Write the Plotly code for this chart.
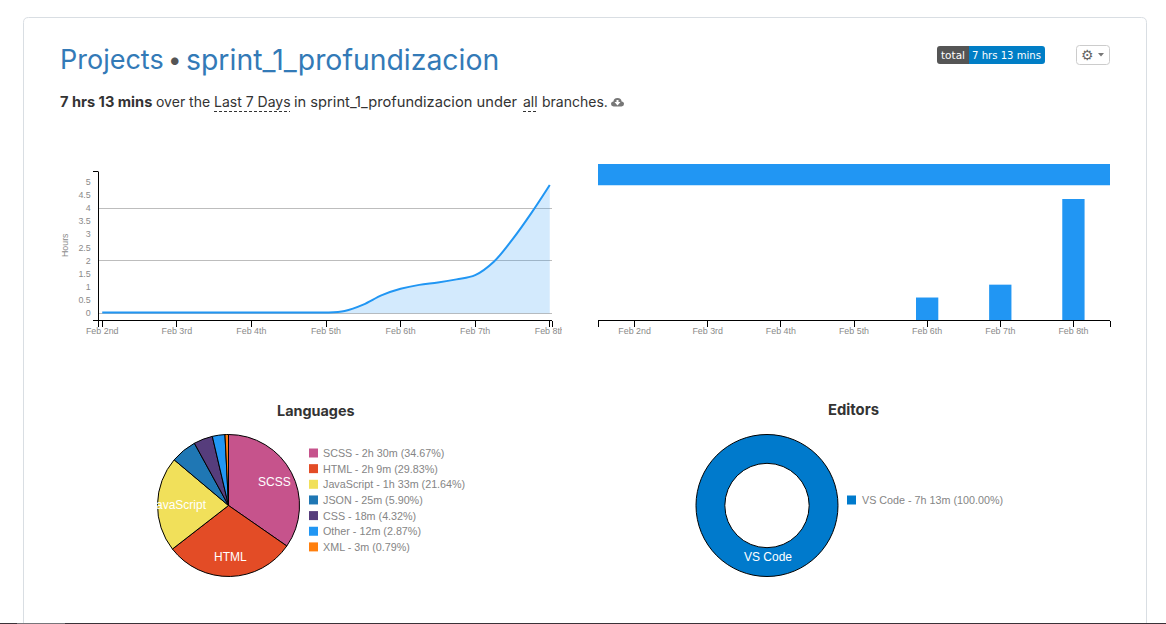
import plotly.graph_objects as go

W, H = 1166, 624
def px(v): return v / W
def py(v): return 1 - v / H

# ---------- data ----------
day_labels = ["Feb 2nd", "Feb 3rd", "Feb 4th", "Feb 5th", "Feb 6th", "Feb 7th", "Feb 8th"]
line_days = [0, 1, 2, 2.75, 3, 3.25, 3.5, 3.75, 4, 4.25, 4.5, 4.75, 5, 5.25, 5.5, 5.75, 6]
line_hours = [0.03, 0.03, 0.03, 0.03, 0.03, 0.09, 0.33, 0.69, 0.93, 1.08, 1.17, 1.29, 1.45, 1.96, 2.81, 3.80, 4.88]
bar_hours = [0, 0, 0, 0, 0.91, 1.43, 4.9]
band_value = [1]
hour_ticks = [0, 0.5, 1, 1.5, 2, 2.5, 3, 3.5, 4, 4.5, 5]
hour_labels = ["0", "0.5", "1", "1.5", "2", "2.5", "3", "3.5", "4", "4.5", "5"]
grid_ticks = [0, 2, 4]
lang_names = ["SCSS", "HTML", "JavaScript", "JSON", "CSS", "Other", "XML"]
lang_values = [34.67, 29.83, 21.64, 5.90, 4.32, 2.87, 0.79]
lang_colors = ["#C6538C", "#E34C26", "#F1E05A", "#1F77B4", "#563D7C", "#2196F3", "#FF7F0E"]
lang_legend = ["SCSS - 2h 30m (34.67%)", "HTML - 2h 9m (29.83%)", "JavaScript - 1h 33m (21.64%)",
               "JSON - 25m (5.90%)", "CSS - 18m (4.32%)", "Other - 12m (2.87%)", "XML - 3m (0.79%)"]
editor_names = ["VS Code"]
editor_values = [100.0]
editor_colors = ["#007ACC"]
editor_legend = ["VS Code - 7h 13m (100.00%)"]

BLUE = "#2196F3"
ARIAL = "Liberation Sans"
HEAD = "Inter"
TICK = dict(family=ARIAL, size=8.9, color="#8a8a8a")

fig = go.Figure()

fig.add_trace(go.Scatter(x=line_days, y=line_hours, mode="lines", fill="tozeroy",
                         fillcolor="rgba(33,150,243,0.2)",
                         line=dict(color=BLUE, width=2, shape="spline", smoothing=1),
                         xaxis="x", yaxis="y", showlegend=False, hoverinfo="skip"))
fig.add_trace(go.Bar(x=list(range(7)), y=bar_hours, width=0.305, marker=dict(color=BLUE, line_width=0),
                     xaxis="x2", yaxis="y2", showlegend=False, hoverinfo="skip"))
fig.add_trace(go.Bar(x=band_value, y=[0], orientation="h", width=1, marker=dict(color=BLUE, line_width=0),
                     xaxis="x3", yaxis="y3", showlegend=False, hoverinfo="skip"))
fig.add_trace(go.Pie(labels=lang_names, values=lang_values, sort=False, direction="clockwise", rotation=0,
                     marker=dict(colors=lang_colors, line=dict(color="#000", width=1)),
                     textinfo="none", showlegend=False, hoverinfo="skip",
                     domain=dict(x=[px(157.5), px(299.5)], y=[py(576.5), py(434.5)])))
fig.add_trace(go.Pie(labels=editor_names, values=editor_values, sort=False, hole=0.594,
                     marker=dict(colors=editor_colors, line=dict(color="#000", width=1)),
                     textinfo="none", showlegend=False, hoverinfo="skip",
                     domain=dict(x=[px(696), px(838)], y=[py(576.5), py(434.5)])))

# ---------- page furniture ----------
def c(x, y): return f"{px(x):.6f},{py(y):.6f}"
def card(x0, y0, x1, y1, r):
    return (f"M{c(x0, y1)} L{c(x0, y0 + r)} Q{c(x0, y0)} {c(x0 + r, y0)} L{c(x1 - r, y0)} "
            f"Q{c(x1, y0)} {c(x1, y0 + r)} L{c(x1, y1)}")
def rbox(x0, y0, x1, y1, rl, rr):
    return (f"M{c(x0 + rl, y0)} L{c(x1 - rr, y0)} Q{c(x1, y0)} {c(x1, y0 + rr)} L{c(x1, y1 - rr)} "
            f"Q{c(x1, y1)} {c(x1 - rr, y1)} L{c(x0 + rl, y1)} Q{c(x0, y1)} {c(x0, y1 - rl)} "
            f"L{c(x0, y0 + rl)} Q{c(x0, y0)} {c(x0 + rl, y0)} Z")
def poly(*pts):
    return "M" + " L".join(c(x, y) for x, y in pts) + " Z"
P = dict(xref="paper", yref="paper")
ICON = "#777"
shapes = [
    dict(type="path", layer="below", path=card(23.5, 17.5, 1146.5, 630, 5), line=dict(color="#d9dee3", width=1), **P),
    dict(type="rect", layer="above", x0=0, x1=1, y0=py(624), y1=py(623), fillcolor="#3a3238", line_width=0, **P),
    dict(type="rect", layer="above", x0=px(17), x1=px(65), y0=py(624), y1=py(623), fillcolor="#77757a", line_width=0, **P),
    dict(type="line", x0=px(214), x1=px(290), y0=py(111.5), y1=py(111.5), line=dict(color="#333", width=1, dash="3px,2px"), **P),
    dict(type="line", x0=px(523), x1=px(538), y0=py(111.5), y1=py(111.5), line=dict(color="#333", width=1, dash="3px,2px"), **P),
    # cloud-download icon
    dict(type="path", fillcolor=ICON, line_width=0, path=rbox(611, 101.5, 624, 106.5, 2.5, 2.5), **P),
    dict(type="circle", fillcolor=ICON, line_width=0, x0=px(613.5), x1=px(621.5), y0=py(105), y1=py(98), **P),
    dict(type="path", fillcolor="#fff", line_width=0,
         path=poly((616.5, 100), (618.5, 100), (618.5, 102), (620.5, 102), (617.5, 105.5), (614.5, 102), (616.5, 102)), **P),
    # badge
    dict(type="path", fillcolor="#555", line_width=0, path=rbox(937, 46, 969, 64, 3, 0), **P),
    dict(type="path", fillcolor="#007EC6", line_width=0, path=rbox(969, 46, 1045, 64, 0, 3), **P),
    # gear button and caret
    dict(type="path", path=rbox(1076.5, 45.5, 1109.5, 64.5, 3, 3), line=dict(color="#ccc", width=1), fillcolor="#fff", **P),
    dict(type="path", fillcolor="#777", line_width=0, path=poly((1098, 53), (1104, 53), (1101, 56.5)), **P),
    # y-axis end ticks
    dict(type="line", x0=px(93), x1=px(98.5), y0=py(171.5), y1=py(171.5), line=dict(color="#000", width=1), **P),
    dict(type="line", x0=px(93), x1=px(98.5), y0=py(320.5), y1=py(320.5), line=dict(color="#000", width=1), **P),
    # clip of the last x label
    dict(type="rect", layer="above", x0=px(562), x1=px(575), y0=py(338), y1=py(324), fillcolor="#fff", line_width=0, **P),
]

anns = []
def text(x, y, s, size=12, color="#333", family=HEAD, anchor="left", **kw):
    anns.append(dict(x=px(x), y=py(y), xref="paper", yref="paper", text=s, showarrow=False,
                     xanchor=anchor, yanchor="middle", align=anchor, borderpad=0,
                     font=dict(family=family, size=size, color=color), **kw))

text(59, 59, "Projects", 27, "#337AB7")
text(174.5, 60, "•", 24, "#555", HEAD, "center")
text(185, 59, "sprint_1_profundizacion", 28.4, "#337AB7")
text(59, 102, "<b>7 hrs 13 mins</b>", 14.6, "#333")
text(155, 102, "over the", 14, "#333")
text(213, 102, "Last 7 Days", 14, "#333")
text(293, 102, "in sprint_1_profundizacion under", 14.7, "#333")
text(522, 102, "all", 14, "#333")
text(540.5, 102, "branches.", 14, "#333")
text(953, 55, "total", 10.5, "#fff", "DejaVu Sans", "center")
text(1006, 55, "7 hrs 13 mins", 10.1, "#fff", "DejaVu Sans", "center")
text(1087, 54.5, "⚙", 14, "#666", "DejaVu Sans", "center")
text(315.5, 410, "<b>Languages</b>", 14.4, "#333", HEAD, "center")
text(853.5, 410, "<b>Editors</b>", 14.8, "#333", HEAD, "center")
text(64.5, 245.5, "Hours", 8.8, "#8a8a8a", ARIAL, "center", textangle=-90)

text(274, 481.5, lang_names[0], 12, "#fff", ARIAL, "center")
text(230, 556.5, lang_names[1], 12, "#fff", ARIAL, "center")
text(178.5, 505, lang_names[2], 12, "#fff", ARIAL, "center")
anns.append(dict(x=px(157), y=py(505), xref="paper", yref="paper", text=" ", showarrow=False, xanchor="right",
                 yanchor="middle", width=14, height=16, bgcolor="#fff", borderpad=0))
text(767.5, 556.5, editor_names[0], 12, "#fff", ARIAL, "center")

LEG = "#858585"
for i, (lab, col) in enumerate(zip(lang_legend, lang_colors)):
    yy = 453 + i * 15.65
    shapes.append(dict(type="rect", x0=px(309), x1=px(318), y0=py(yy + 4.5), y1=py(yy - 4.5), fillcolor=col, line_width=0, **P))
    text(321.5, yy, lab, 10.75, LEG, ARIAL)
for lab, col in zip(editor_legend, editor_colors):
    shapes.append(dict(type="rect", x0=px(847), x1=px(856), y0=py(504.5), y1=py(495.5), fillcolor=col, line_width=0, **P))
    text(860.5, 500, lab, 10.75, LEG, ARIAL)

x1_lo, x1_hi = -0.05, 6.03
fig.update_layout(
    template="none",
    width=W, height=H, margin=dict(l=0, r=0, t=0, b=0, pad=0), autosize=False,
    paper_bgcolor="#fff", plot_bgcolor="rgba(0,0,0,0)", showlegend=False,
    shapes=shapes, annotations=anns,
    xaxis=dict(domain=[px(98.5), px(552)], range=[x1_lo, x1_hi], anchor="y", tickmode="array", automargin=False,
               tickvals=[x1_lo, 0, 1, 2, 3, 4, 5, 6, x1_hi], ticktext=[""] + day_labels + [""],
               ticks="outside", ticklen=6, tickcolor="#000", showgrid=False, zeroline=False,
               showline=True, linecolor="#000", linewidth=1, tickfont=TICK, ticklabelstandoff=-4),
    yaxis=dict(domain=[py(320), py(171.5)], range=[-0.255, 5.39], anchor="x", tickmode="array", automargin=False,
               tickvals=hour_ticks, ticktext=hour_labels, ticks="", showgrid=False, zeroline=False,
               showline=True, linecolor="#000", linewidth=1, tickfont=TICK, ticklabelstandoff=5),
    yaxis4=dict(domain=[py(320), py(171.5)], range=[-0.255, 5.39], anchor="x", overlaying="y", automargin=False,
                tickmode="array", tickvals=grid_ticks, showticklabels=False, ticks="",
                showgrid=True, gridcolor="#bdbdbd", gridwidth=1, zeroline=False, showline=False),
    xaxis2=dict(domain=[px(598), px(1110)], range=[-0.5, 6.5], anchor="y2", tickmode="array", automargin=False,
                tickvals=[-0.5, 0, 1, 2, 3, 4, 5, 6, 6.5], ticktext=[""] + day_labels + [""],
                ticks="outside", ticklen=6, tickcolor="#000", showgrid=False, zeroline=False,
                showline=True, linecolor="#000", linewidth=1, tickfont=TICK, ticklabelstandoff=-4),
    yaxis2=dict(domain=[py(320), py(190)], range=[0, 5.26], anchor="x2", visible=False, automargin=False),
    xaxis3=dict(domain=[px(598), px(1110)], range=[0, 1], anchor="y3", visible=False, automargin=False),
    yaxis3=dict(domain=[py(185.5), py(164)], range=[-0.5, 0.5], anchor="x3", visible=False, automargin=False),
)
fig.add_trace(go.Scatter(x=[], y=[], xaxis="x", yaxis="y4", showlegend=False, hoverinfo="skip"))

fig.write_html("out.html", config=dict(displayModeBar=False),
               post_script="document.body.style.margin='0';document.body.style.overflow='hidden';")
